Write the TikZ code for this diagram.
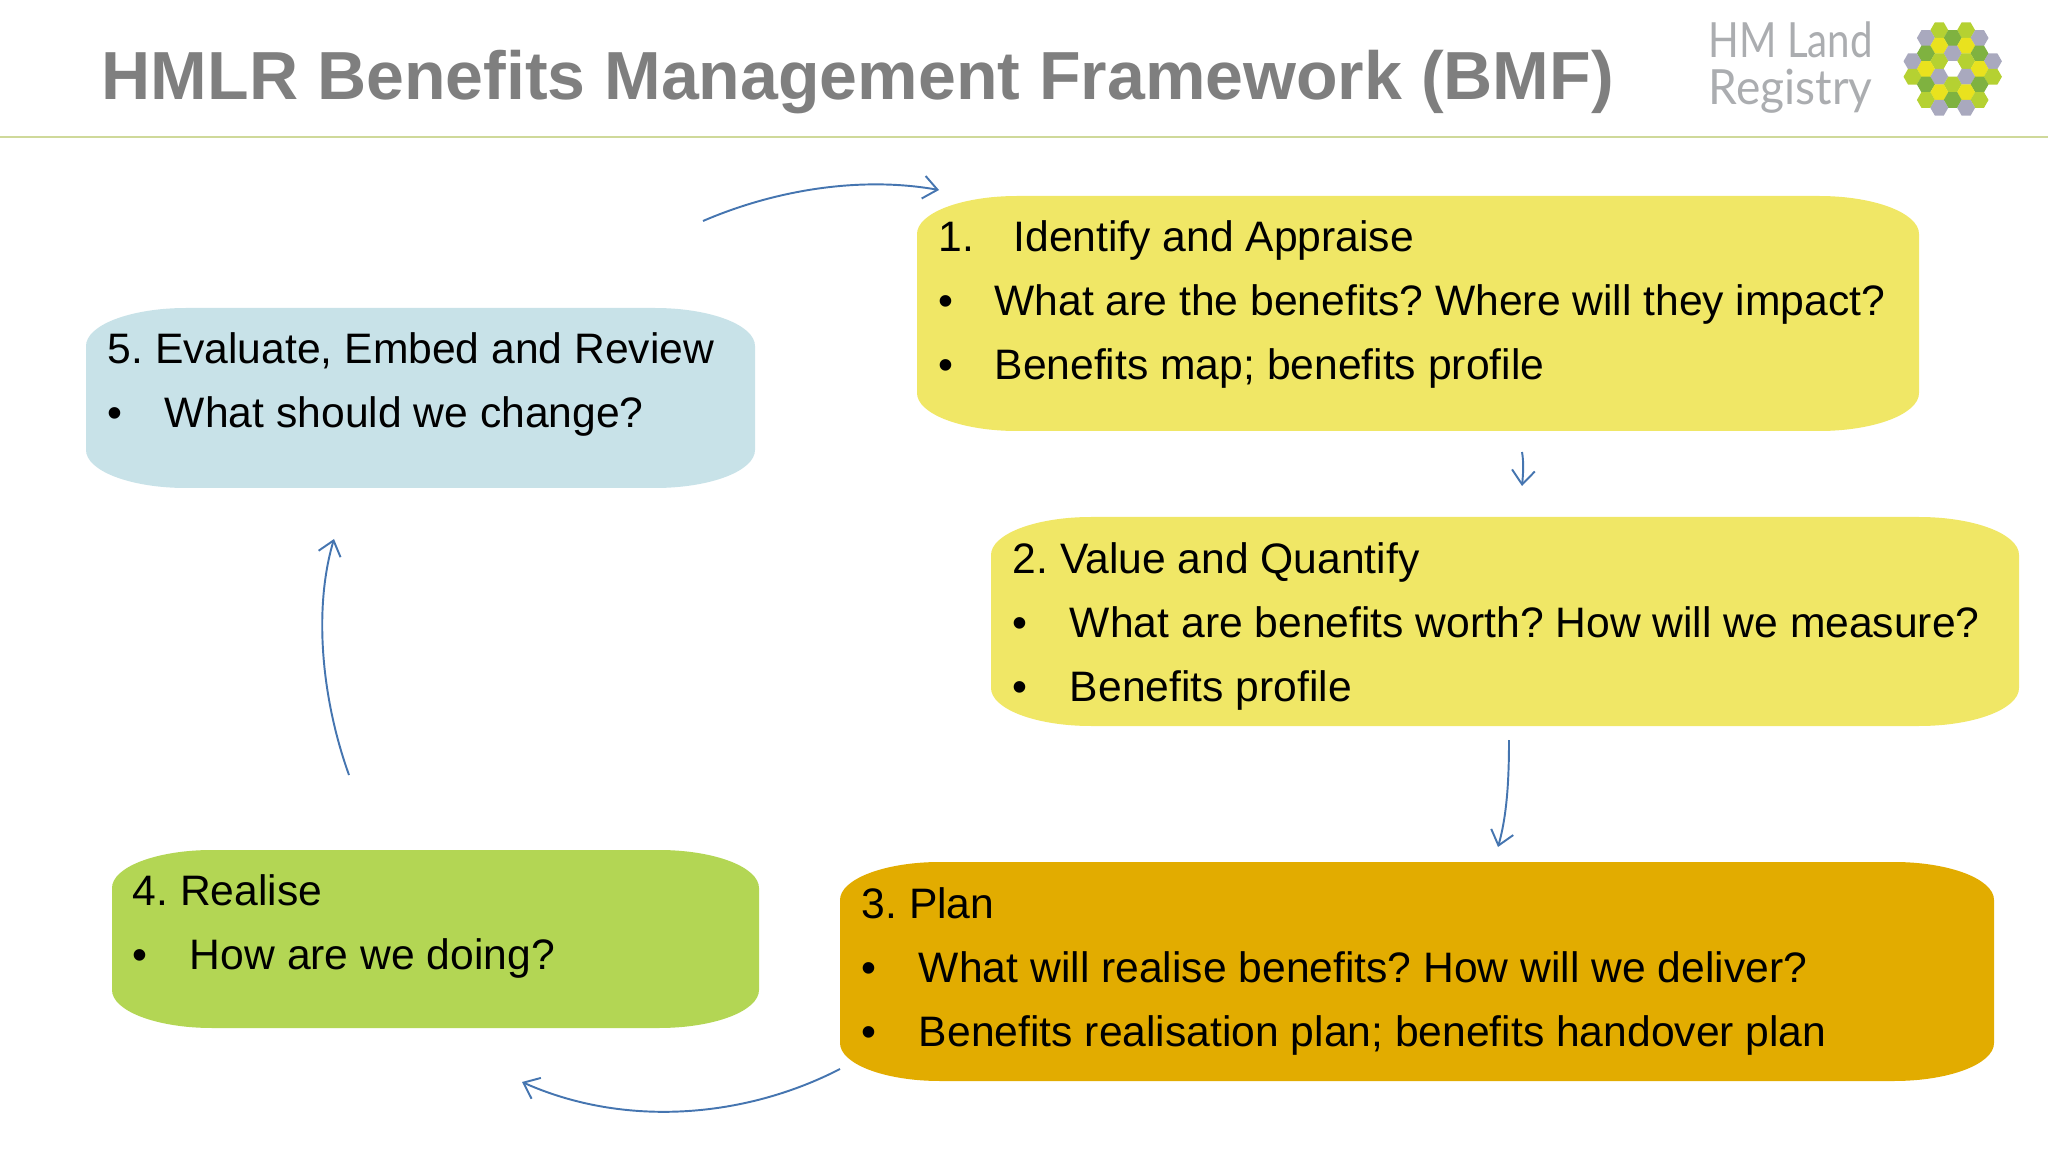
\documentclass[tikz,border=0pt]{standalone}
\usepackage{fontspec}
\setmainfont{Liberation Sans}
\newfontfamily\logofont[FakeStretch=0.83]{Lato}
\newfontfamily\logowidefont[FakeStretch=0.95]{Lato}
\usetikzlibrary{arrows.meta}
\definecolor{stageyellow}{HTML}{F0E766}
\definecolor{stageblue}{HTML}{C8E2E8}
\definecolor{stageorange}{HTML}{E2AC00}
\definecolor{stagegreen}{HTML}{B3D654}
\definecolor{flowblue}{HTML}{4575B0}
\definecolor{titlegrey}{HTML}{7F7F7F}
\definecolor{rulegreen}{HTML}{CFD99A}
\definecolor{logogrey}{HTML}{ABADB0}
\definecolor{hexlime}{HTML}{B5D132}
\definecolor{hexyellow}{HTML}{E9E21E}
\definecolor{hexgreen}{HTML}{7FB240}
\definecolor{hexgrey}{HTML}{A9A9BE}
\frenchspacing
\newcommand{\stagebox}[5]{\fill[#5] (#1,#2+38) arc[start angle=180,end angle=270,x radius=100,y radius=38]
    -- (#3-100,#2) arc[start angle=270,end angle=360,x radius=100,y radius=38]
    -- (#3,#4-38) arc[start angle=0,end angle=90,x radius=100,y radius=38]
    -- (#1+100,#4) arc[start angle=90,end angle=180,x radius=100,y radius=38] -- cycle;}
\newcommand{\bulletline}[1]{\makebox[16.3pt][l]{\textbullet}#1}
\tikzset{
    stagetext/.style={anchor=north west, inner sep=0pt, align=left, text=black,
        font=\fontsize{12.12}{18.2}\selectfont},
    flow/.style={flowblue, line width=0.55pt, ->, >={Straight Barb[length=4pt,width=6.5pt]}},
    logotext/.style={anchor=base west, inner sep=0pt, text=logogrey},
}
\begin{document}
\begin{tikzpicture}[x=0.01cm, y=-0.01cm]
    \useasboundingbox (0, 0) rectangle (2048, 1152);
    % header
    \node (title) [anchor=base west, inner sep=0pt, text=titlegrey, font=\fontsize{19.35}{24}\selectfont\bfseries]
        at (101, 100) {HMLR Benefits Management Framework (BMF)};
    \coordinate (ruleleft) at (0, 137);
    \coordinate (ruleright) at (2048, 137);
    \draw [rulegreen, line width=0.6pt] (ruleleft) -- (ruleright);
    \node (logoland) [logotext, font=\fontsize{13.8}{16}\logofont] at (1708, 58) {HM Land};
    \node (logoregistry) [logotext, font=\fontsize{13.8}{16}\logowidefont] at (1708, 105) {Registry};
    \foreach \i/\j/\c in {-1/-5/hexlime, 1/-5/hexlime, -2/-4/hexgrey, 0/-4/hexgreen, 2/-4/hexgrey,
            -1/-3/hexyellow, 1/-3/hexyellow, -2/-2/hexgreen, 0/-2/hexgrey, 2/-2/hexgreen,
            -3/-1/hexgrey, -1/-1/hexlime, 1/-1/hexlime, 3/-1/hexgrey,
            -2/0/hexyellow, 0/0/white, 2/0/hexyellow,
            -3/1/hexlime, -1/1/hexgrey, 1/1/hexgrey, 3/1/hexlime,
            -2/2/hexgreen, 0/2/hexlime, 2/2/hexgreen, -1/3/hexyellow, 1/3/hexyellow,
            -2/4/hexlime, 0/4/hexgreen, 2/4/hexlime, -1/5/hexgrey, 1/5/hexgrey}
        \fill [\c] (1952.7 + 13.4 * \i, 69 + 7.75 * \j) +(0:9) -- +(60:9) -- +(120:9)
            -- +(180:9) -- +(240:9) -- +(300:9) -- cycle;
    % stages
    \stagebox{917}{196}{1919}{431}{stageyellow}
    \stagebox{86}{308}{755}{488}{stageblue}
    \stagebox{991}{517}{2019}{726}{stageyellow}
    \stagebox{840}{862}{1994}{1081}{stageorange}
    \stagebox{112}{850}{759}{1028}{stagegreen}
    \node (identify) [stagetext] at (938, 206) {\strut\makebox[21.3pt][l]{1.}Identify and Appraise\\
        \makebox[15.9pt][l]{\textbullet}What are the benefits? Where will they impact?\\
        \makebox[15.9pt][l]{\textbullet}Benefits map; benefits profile};
    \node (evaluate) [stagetext] at (107, 318) {\strut 5. Evaluate, Embed and Review\\
        \bulletline{What should we change?}};
    \node (value) [stagetext] at (1012, 528) {\strut 2. Value and Quantify\\
        \bulletline{What are benefits worth? How will we measure?}\\
        \bulletline{Benefits profile}};
    \node (plan) [stagetext] at (861, 873) {\strut 3. Plan\\
        \bulletline{What will realise benefits? How will we deliver?}\\
        \bulletline{Benefits realisation plan; benefits handover plan}};
    \node (realise) [stagetext] at (132, 860) {\strut 4. Realise\\
        \bulletline{How are we doing?}};
    % arrows
    \coordinate (evaluateout) at (703, 221);
    \coordinate (identifyin) at (939, 190);
    \coordinate (identifyout) at (1522, 452);
    \coordinate (valuein) at (1522, 486);
    \coordinate (valueout) at (1509, 740);
    \coordinate (planin) at (1498, 847);
    \coordinate (planout) at (840, 1069);
    \coordinate (realisein) at (522, 1082);
    \coordinate (realiseout) at (349, 775);
    \coordinate (evaluatein) at (334, 539);
    \draw [flow] (evaluateout) .. controls (775, 190) and (860, 176) .. (identifyin);
    \draw [flow] (identifyout) .. controls (1524, 463) and (1523, 475) .. (valuein);
    \draw [flow] (valueout) .. controls (1509, 780) and (1507, 815) .. (planin);
    \draw [flow] (planout) .. controls (745, 1118) and (625, 1128) .. (realisein);
    \draw [flow] (realiseout) .. controls (322, 700) and (313, 610) .. (evaluatein);
\end{tikzpicture}
\end{document}
